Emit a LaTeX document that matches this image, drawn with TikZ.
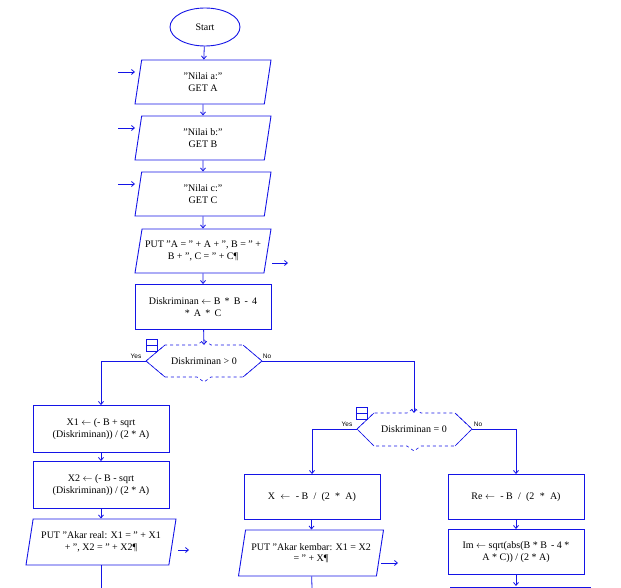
\documentclass[tikz,border=0pt]{standalone}
\usepackage{fontspec}
\setmainfont{Liberation Serif}
\newfontfamily\lab{Liberation Sans}
\usetikzlibrary{arrows.meta,shapes.geometric}
\definecolor{fc}{RGB}{20,20,230}
\newcommand\qq{\char34}
\begin{document}
\begin{tikzpicture}[x=1pt,y=-1pt,draw=fc,line width=0.8pt,
  ln/.style={draw=fc,line width=0.8pt,-{Straight Barb[length=3pt,width=5pt]}},
  box/.style={draw=fc,line width=0.9pt,rectangle,minimum width=136pt,minimum height=45pt,align=center,font=\fontsize{10}{11.5}\selectfont,inner sep=1pt},
  io/.style={draw=fc,line width=0.9pt,trapezium,trapezium left angle=72,trapezium right angle=108,minimum width=136pt,minimum height=44pt,align=center,font=\fontsize{10}{11.5}\selectfont,inner sep=1pt,trapezium stretches body},
  yn/.style={font=\lab\fontsize{6.5}{7}\selectfont,inner sep=1pt}]
\path[use as bounding box] (0,0) rectangle (621,588);
\node[ellipse,draw=fc,line width=0.9pt,minimum width=70pt,minimum height=38pt,font=\fontsize{10}{11}\selectfont] (s) at (205,27) {Start};
\node[io] (a) at (203,82) {\qq Nilai a:\qq\\GET A};
\node[io] (b) at (203,138) {\qq Nilai b:\qq\\GET B};
\node[io] (c) at (203,194) {\qq Nilai c:\qq\\GET C};
\node[io] (p) at (203,251) {PUT \qq A = \qq\ + A + \qq, B = \qq\ +\\B + \qq, C = \qq\ + C¶};
\node[box] (d) at (203,307) {Diskriminan $\leftarrow$ B \,*\, B \,-\, 4\\*\, A \,*\, C};
\draw[ln] (s) -- (a); \draw[ln] (a) -- (b); \draw[ln] (b) -- (c); \draw[ln] (c) -- (p); \draw[ln] (p) -- (d);
\foreach \y/\n in {72/ea,128/eb,184/ec}{\coordinate (\n) at (118,\y); \draw[ln] (\n) -- (135,\y);}
\coordinate (po) at (272,263); \draw[ln] (po) -- (288,263);
% decision 1
\coordinate (q1) at (204,361);
\draw[dashed,line width=0.6pt] (146,361) -- (165,345) -- (197,345) -- (204,340) -- (211,345) -- (243,345) -- (262,361) -- (243,377) -- (211,377) -- (204,382) -- (197,377) -- (165,377) -- cycle;
\draw[line width=0.6pt] (146,361) -- (165,345) (243,345) -- (262,361) -- (243,377) (165,377) -- (146,361);
\node[font=\fontsize{10}{11}\selectfont] (q1t) at (q1) {Diskriminan > 0};
\draw[line width=0.7pt] (146,339) rectangle (157,351) (146,345) -- (157,345);
\draw[ln] (d) -- (204,345);
\node[yn] at (136,356) {Yes}; \node[yn] at (267,356) {No};
\node[box,minimum height=47pt] (x1) at (101,429) {X1 $\leftarrow$ (- B + sqrt\\(Diskriminan)) / (2 * A)};
\node[box,minimum height=47pt] (x2) at (101,485) {X2 $\leftarrow$ (- B - sqrt\\(Diskriminan)) / (2 * A)};
\node[io,minimum width=150pt,minimum height=46pt] (p1) at (101,542) {PUT \qq Akar real: X1 = \qq\ + X1\\+ \qq, X2 = \qq\ + X2¶};
\draw[ln] (146,361) -| (x1); \draw[ln] (x1) -- (x2); \draw[ln] (x2) -- (p1);
\draw (p1) -- (101,588);
\coordinate (p1o) at (178,550); \draw[ln] (p1o) -- (189,550);
% decision 2
\coordinate (q2) at (414,429);
\draw[dashed,line width=0.6pt] (357,429) -- (374,413) -- (407,413) -- (414,408) -- (421,413) -- (455,413) -- (472,429) -- (455,446) -- (421,446) -- (414,451) -- (407,446) -- (374,446) -- cycle;
\draw[line width=0.6pt] (357,429) -- (374,413) (455,413) -- (472,429) -- (455,446) (374,446) -- (357,429);
\node[font=\fontsize{10}{11}\selectfont] (q2t) at (q2) {Diskriminan = 0};
\draw[line width=0.7pt] (356,407) rectangle (367,419) (356,413) -- (367,413);
\draw[ln] (262,361) -| (414,413);
\node[yn] at (347,424) {Yes}; \node[yn] at (478,424) {No};
\node[box] (xk) at (312,497) {X \;$\leftarrow$\; - B \;/\; (2 \;*\; A)};
\node[io,minimum width=145pt,minimum height=46pt] (p2) at (311,553) {PUT \qq Akar kembar: X1 = X2\\= \qq\ + X¶};
\draw[ln] (357,429) -| (xk); \draw[ln] (xk) -- (p2); \draw (p2) -- (312,588);
\coordinate (p2o) at (381,563); \draw[ln] (p2o) -- (398,563);
\node[box] (re) at (516,497) {Re $\leftarrow$ \;- B \;/\; (2 \;*\; A)};
\node[box] (im) at (516,552) {Im $\leftarrow$ sqrt(abs(B * B \,- 4 *\\A * C)) / (2 * A)};
\draw[ln] (472,429) -| (re); \draw[ln] (re) -- (im);
\coordinate (nx) at (516,586);
\draw[ln] (im) -- (nx);
\draw[line width=0.9pt] (450,596) -- (450,587) -- (590,587) -- (590,596);
\end{tikzpicture}
\end{document}
